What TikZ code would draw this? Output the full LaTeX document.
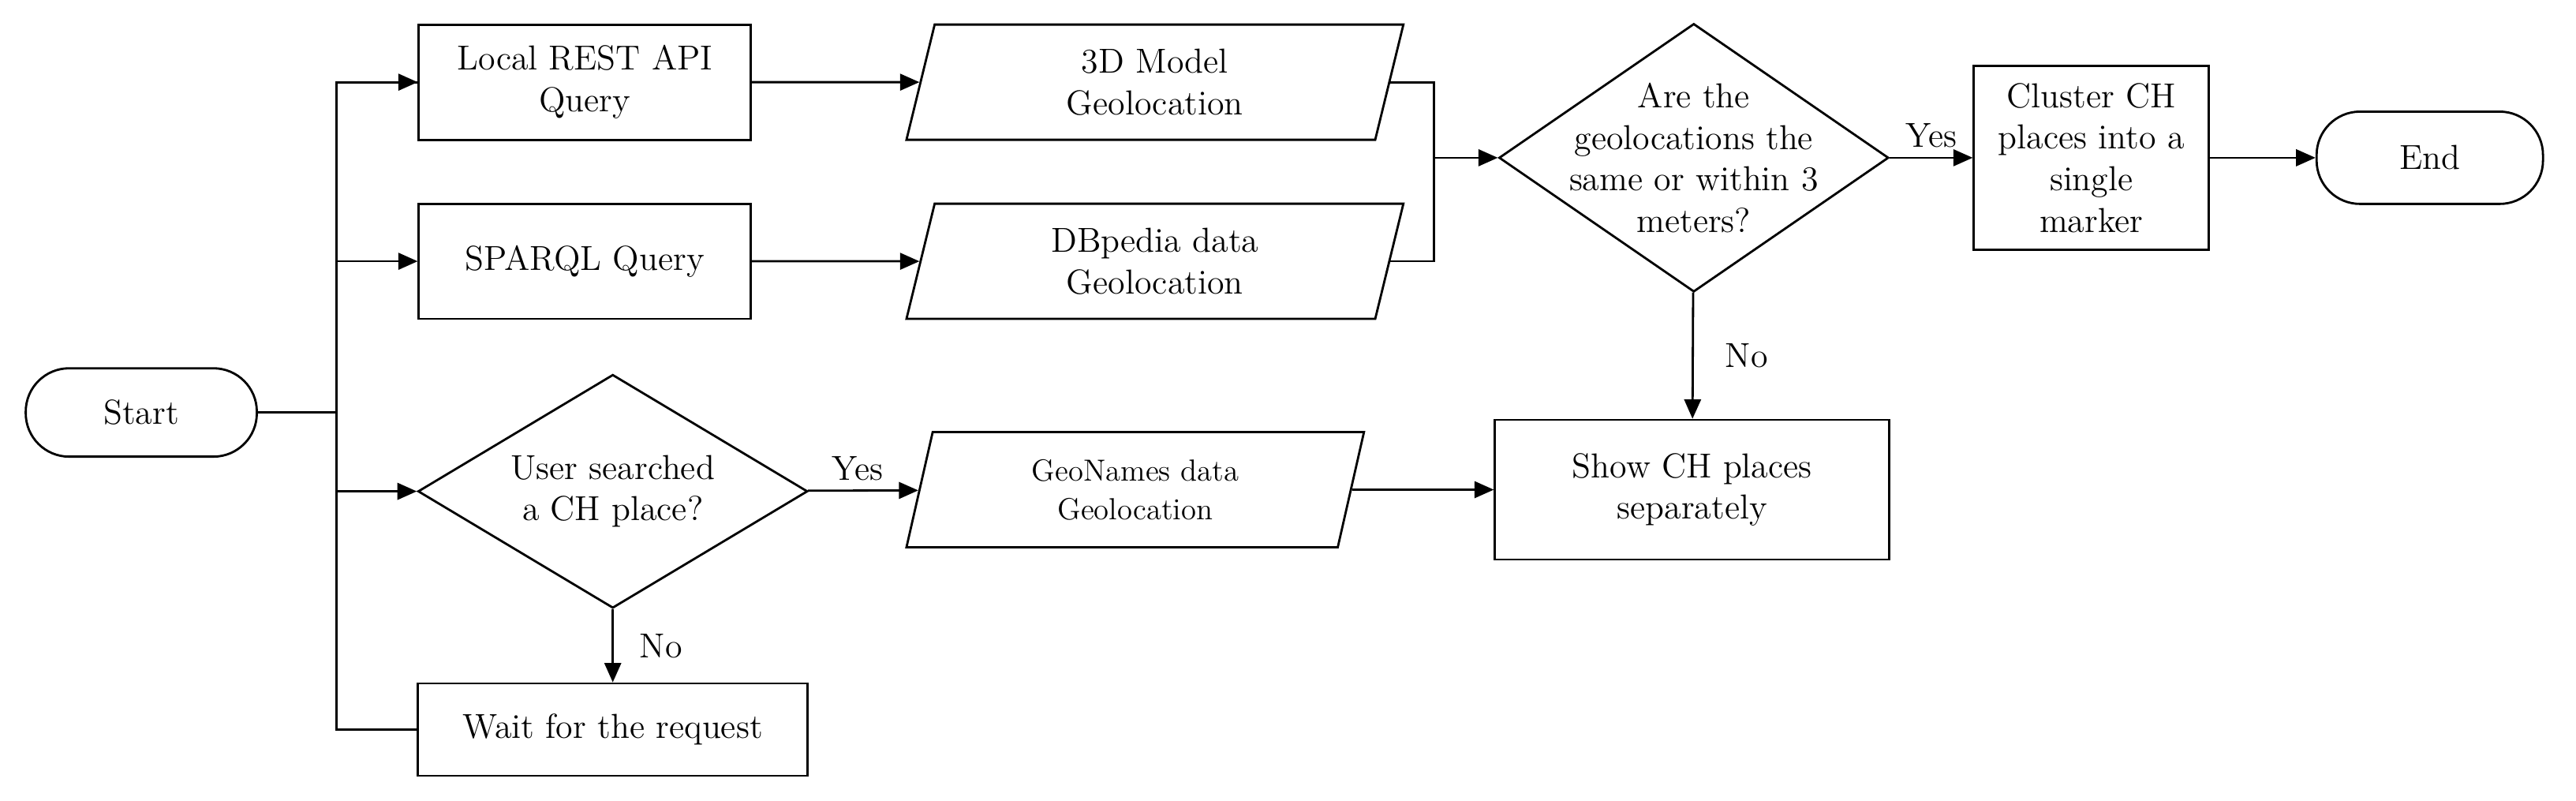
\documentclass[tikz,border=0pt]{standalone}
\usetikzlibrary{shapes.geometric,arrows.meta}
\tikzset{
  box/.style={draw, thick, align=center, minimum width=4.21cm, minimum height=1.46cm, inner sep=2pt},
  data/.style={draw, thick, align=center, trapezium, trapezium left angle=70, trapezium right angle=110,
    trapezium stretches body, minimum width=6.3cm, minimum height=1.46cm, inner sep=2pt},
  decision/.style={draw, thick, align=center, diamond, inner sep=-0.35cm},
  term/.style={draw, thick, rounded corners=0.55cm, minimum width=2.93cm, minimum height=1.12cm},
  flow/.style={thick, -{Triangle[length=7pt,width=6pt]}},
}
\begin{document}
\begin{tikzpicture}[x=0.02083cm, y=-0.02083cm, font=\fontsize{12.5}{15}\selectfont]
\useasboundingbox (0,0) rectangle (1568,487);

% Nodes
\node[term] (start) at (86,251) {Start};
\node[box] (rest) at (356,50) {Local REST API\\Query};
\node[box] (sparql) at (356,159) {SPARQL Query};
\node[decision, aspect=1.67, minimum width=4.94cm, minimum height=2.96cm] (user) at (373,299) {User searched\\a CH place?};
\node[box, minimum height=1.17cm, minimum width=4.94cm] (wait) at (373,444) {Wait for the request};
\node[data] (model) at (703,50) {3D Model\\Geolocation};
\node[data] (dbp) at (703,159) {DBpedia data\\Geolocation};
\node[data, minimum width=5.8cm, font=\fontsize{11}{14}\selectfont] (geon) at (691,298) {GeoNames data\\Geolocation};
\node[decision, aspect=1.45, minimum width=4.94cm, minimum height=3.4cm] (same) at (1031,96) {Are the\\geolocations the\\same or within 3\\meters?};
\node[box, minimum width=2.98cm, minimum height=2.33cm] (cluster) at (1273,96) {Cluster CH\\places into a\\single\\marker};
\node[term, minimum width=2.87cm, minimum height=1.17cm] (end) at (1479,96) {End};
\node[box, minimum width=5cm, minimum height=1.77cm] (show) at (1030,298) {Show CH places\\separately};
\coordinate (trunk) at (205,251);
\coordinate (merge) at (873,96);

% Connectors
\draw[thick] (start) -- (trunk);
\draw[thick] (trunk) |- (rest.west) coordinate[pos=0.5] (t1);
\draw[thick] (trunk) |- (wait.west);
\draw[flow] (t1) -- (rest);
\draw[flow] (205,159) -- (sparql);
\draw[flow] (205,299) -- (user);
\draw[flow] (user) -- node[right=6pt] {No} (wait);
\draw[flow] (user) -- node[above, pos=0.45] {Yes} (geon);
\draw[flow] (geon) -- (show);
\draw[flow] (rest) -- (model);
\draw[flow] (sparql) -- (dbp);
\draw[thick] (model.east) -| (merge);
\draw[thick] (dbp.east) -| (merge);
\draw[flow] (merge) -- (same);
\draw[flow] (same) -- node[above] {Yes} (cluster);
\draw[flow] (same) -- node[right=8pt] {No} (show);
\draw[flow] (cluster) -- (end);
\end{tikzpicture}
\end{document}
